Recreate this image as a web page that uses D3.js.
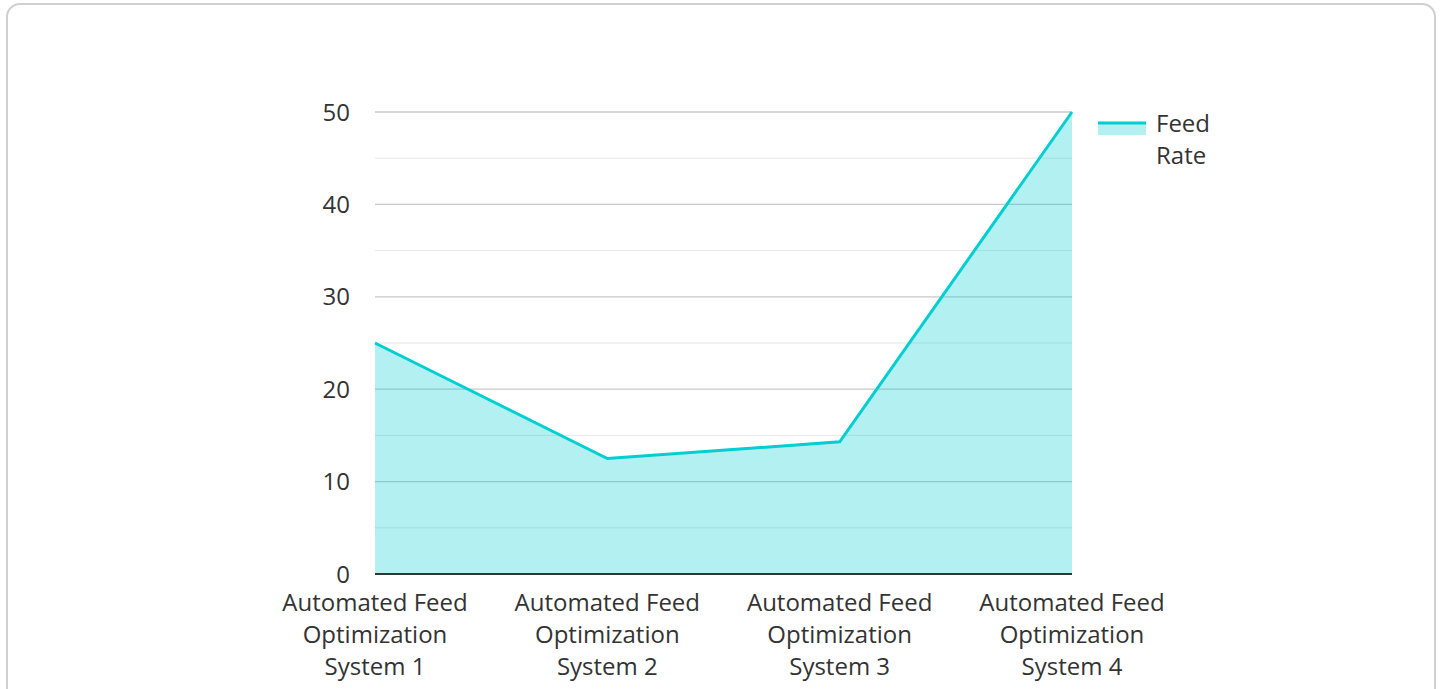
<!DOCTYPE html>
<html>
<head>
<meta charset="utf-8">
<script src="https://cdn.jsdelivr.net/npm/d3@7"></script>
<style>
  html, body { margin: 0; padding: 0; background: #fff; }
  body { width: 1445px; height: 689px; overflow: hidden; font-family: "Open Sans", "Noto Sans", sans-serif; }
  #card {
    position: absolute; left: 6px; top: 3px; width: 1430px; height: 720px;
    border: 2px solid #d0d0d0; border-radius: 14px; box-sizing: border-box;
  }
  svg { position: absolute; left: 0; top: 0; }
</style>
</head>
<body>
<div id="card"></div>
<div id="chart"></div>
<script>
// data
var categories = ["Automated Feed Optimization System 1", "Automated Feed Optimization System 2",
  "Automated Feed Optimization System 3", "Automated Feed Optimization System 4"];
var feedRate = [25, 12.5, 14.3, 50];
var yTicks = [0, 10, 20, 30, 40, 50];
var yMinorTicks = [5, 15, 25, 35, 45];
var seriesName = ["Feed", "Rate"];

var lineColor = "#00CED1";
var fontSize = "24px";

var margin = { top: 112, left: 375 };
var w = 697, h = 462;

var svg = d3.select("#chart").append("svg")
  .attr("width", 1445)
  .attr("height", 689);

var g = svg.append("g")
  .attr("transform", "translate(" + margin.left + "," + margin.top + ")");

var xScale = d3.scalePoint().domain(categories).range([0, w]);
var yScale = d3.scaleLinear().domain([0, 50]).range([h, 0]);

// minor grid
g.selectAll(".minor").data(yMinorTicks).enter().append("line")
  .attr("x1", 0).attr("x2", w)
  .attr("y1", function(d) { return yScale(d); })
  .attr("y2", function(d) { return yScale(d); })
  .style("stroke", "#e6e6e6").style("stroke-width", 1);

// major grid
g.selectAll(".major").data(yTicks.slice(1)).enter().append("line")
  .attr("x1", 0).attr("x2", w)
  .attr("y1", function(d) { return yScale(d); })
  .attr("y2", function(d) { return yScale(d); })
  .style("stroke", "#c8c8c8").style("stroke-width", 1.3);

// area + line
var area = d3.area()
  .x(function(d, i) { return xScale(categories[i]); })
  .y0(h)
  .y1(function(d) { return yScale(d); });

var line = d3.line()
  .x(function(d, i) { return xScale(categories[i]); })
  .y(function(d) { return yScale(d); });

g.append("path")
  .datum(feedRate)
  .attr("d", area)
  .style("fill", lineColor)
  .style("fill-opacity", 0.3);

g.append("path")
  .datum(feedRate)
  .attr("d", line)
  .style("fill", "none")
  .style("stroke", lineColor)
  .style("stroke-width", 3);

// y axis labels
g.selectAll(".ylab").data(yTicks).enter().append("text")
  .attr("x", -25)
  .attr("y", function(d) { return yScale(d); })
  .attr("dy", "0.36em")
  .style("text-anchor", "end")
  .style("font-size", fontSize)
  .style("fill", "#333")
  .text(function(d) { return d; });

// x axis line
g.append("line")
  .attr("x1", 0).attr("x2", w)
  .attr("y1", h).attr("y2", h)
  .style("stroke", "#333").style("stroke-width", 2);

// x labels (wrapped)
var xl = g.selectAll(".xlab").data(categories).enter().append("text")
  .attr("x", function(d) { return xScale(d); })
  .attr("y", h + 37)
  .style("text-anchor", "middle")
  .style("font-size", fontSize)
  .style("fill", "#333");

xl.each(function(d) {
  var parts = ["Automated Feed", "Optimization", d.replace("Automated Feed Optimization ", "")];
  var t = d3.select(this);
  parts.forEach(function(p, i) {
    t.append("tspan")
      .attr("x", xScale(d))
      .attr("dy", i === 0 ? 0 : 32)
      .text(p);
  });
});

// legend
var lg = svg.append("g").attr("transform", "translate(1098,123)");
lg.append("rect")
  .attr("x", 0).attr("y", 0).attr("width", 48).attr("height", 12)
  .style("fill", lineColor).style("fill-opacity", 0.3);
lg.append("line")
  .attr("x1", 0).attr("x2", 48).attr("y1", 0).attr("y2", 0)
  .style("stroke", lineColor).style("stroke-width", 3);
lg.selectAll("text").data(seriesName).enter().append("text")
  .attr("x", 58)
  .attr("y", function(d, i) { return 9 + i * 32; })
  .style("font-size", fontSize)
  .style("fill", "#333")
  .text(function(d) { return d; });
</script>
</body>
</html>
